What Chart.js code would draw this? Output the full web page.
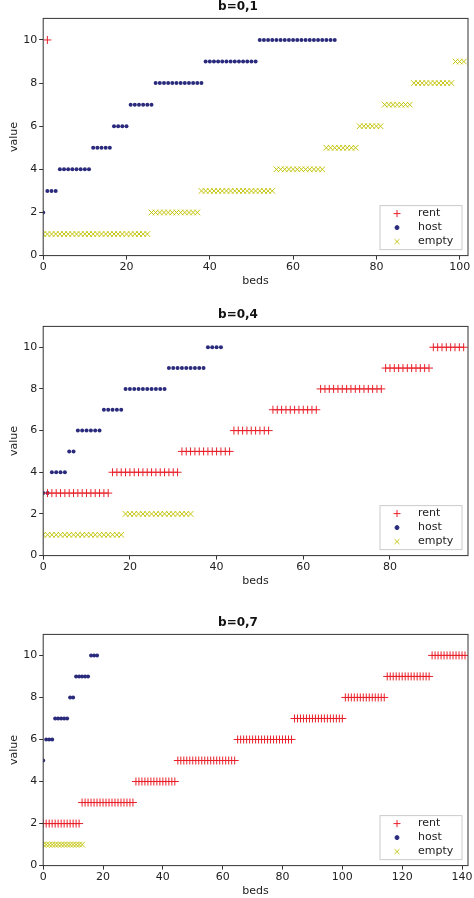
<!DOCTYPE html>
<html>
<head>
<meta charset="utf-8">
<script src="https://cdn.jsdelivr.net/npm/chart.js@4"></script>
<style>
  body { margin: 0; background: #fff; overflow: hidden; }
  .box { position: absolute; left: 0; width: 474px; }
</style>
</head>
<body>
<div class="box" style="top:0;height:292px"><canvas id="c1"></canvas></div>
<div class="box" style="top:300px;height:292px"><canvas id="c2"></canvas></div>
<div class="box" style="top:606px;height:292px"><canvas id="c3"></canvas></div>
<script>
"use strict";

// Runs of [value, firstBed, lastBed]
var rent1 = [[10, 1, 1]];
var host1 = [[2, 0, 0], [3, 1, 3], [4, 4, 11], [5, 12, 16], [6, 17, 20], [7, 21, 26], [8, 27, 38], [9, 39, 51], [10, 52, 70]];
var empty1 = [[1, 0, 25], [2, 26, 37], [3, 38, 55], [4, 56, 67], [5, 68, 75], [6, 76, 81], [7, 82, 88], [8, 89, 98], [9, 99, 101]];

var rent2 = [[3, 1, 15], [4, 16, 31], [5, 32, 43], [6, 44, 52], [7, 53, 63], [8, 64, 78], [9, 79, 89], [10, 90, 97]];
var host2 = [[3, 0, 1], [4, 2, 5], [5, 6, 7], [6, 8, 13], [7, 14, 18], [8, 19, 28], [9, 29, 37], [10, 38, 41]];
var empty2 = [[1, 0, 18], [2, 19, 34]];

var rent3 = [[2, 0, 12], [3, 13, 30], [4, 31, 44], [5, 45, 64], [6, 65, 83], [7, 84, 100], [8, 101, 114], [9, 115, 129], [10, 130, 141]];
var host3 = [[5, 0, 0], [6, 1, 3], [7, 4, 8], [8, 9, 10], [9, 11, 15], [10, 16, 18]];
var empty3 = [[1, 0, 13]];

var yTicks = [0, 2, 4, 6, 8, 10];

function expand(runs) {
    var pts = [];
    runs.forEach(function (r) {
        for (var x = r[1]; x <= r[2]; x++) pts.push({ x: x, y: r[0] });
    });
    return pts;
}

// frame around plot area + legend in lower right
var framePlugin = {
    id: "frame",
    afterDatasetsDraw: function (chart) {
        var ctx = chart.ctx, a = chart.chartArea;
        ctx.save();
        ctx.strokeStyle = "#333";
        ctx.lineWidth = 1;
        ctx.strokeRect(a.left, a.top, a.right - a.left, a.bottom - a.top);
        var w = 82, h = 44, x = a.right - w - 6, y = a.bottom - h - 6;
        ctx.fillStyle = "rgba(255,255,255,0.85)";
        ctx.strokeStyle = "#ccc";
        ctx.fillRect(x, y, w, h);
        ctx.strokeRect(x, y, w, h);
        ctx.font = "11px 'DejaVu Sans'";
        ctx.textBaseline = "middle";
        chart.data.datasets.forEach(function (ds, i) {
            var ly = y + 8 + i * 14;
            ctx.strokeStyle = ds.borderColor;
            ctx.fillStyle = ds.backgroundColor;
            Chart.helpers.drawPoint(ctx, { pointStyle: ds.pointStyle, radius: ds.pointStyle === "circle" ? 2 : 3.5, borderWidth: 1 }, x + 17, ly);
            ctx.fillStyle = "#222";
            ctx.fillText(ds.label, x + 38, ly);
        });
        ctx.restore();
    }
};

function makeChart(id, title, rent, host, empty, xMax, xStep, pad) {
    return new Chart(document.getElementById(id), {
        type: "scatter",
        data: {
            datasets: [
                { label: "rent", data: expand(rent), pointStyle: "cross", radius: 4, borderWidth: 1, borderColor: "#e8202a", backgroundColor: "#e8202a" },
                { label: "host", data: expand(host), pointStyle: "circle", radius: 2, borderWidth: 0, borderColor: "#2b2b7e", backgroundColor: "#2b2b7e" },
                { label: "empty", data: expand(empty), pointStyle: "crossRot", radius: 4, borderWidth: 1, borderColor: "#c4c410", backgroundColor: "#c4c410" }
            ]
        },
        options: {
            responsive: true,
            maintainAspectRatio: false,
            animation: false,
            layout: { padding: pad },
            plugins: {
                legend: { display: false },
                tooltip: { enabled: false },
                title: { display: true, text: title, color: "#111", padding: { top: 0, bottom: 4 },
                         font: { family: "DejaVu Sans", size: 12, weight: "bold" } }
            },
            scales: {
                x: {
                    min: 0, max: xMax,
                    afterBuildTicks: function (s) {
                        var t = [];
                        for (var v = 0; v <= xMax; v += xStep) t.push({ value: v });
                        s.ticks = t;
                    },
                    ticks: { autoSkip: false, color: "#222", font: { family: "DejaVu Sans", size: 11 }, padding: 1, maxRotation: 0 },
                    grid: { drawOnChartArea: false, color: "#333", tickLength: 4 },
                    border: { display: false },
                    title: { display: true, text: "beds", color: "#222", padding: 0, font: { family: "DejaVu Sans", size: 11 } }
                },
                y: {
                    min: 0, max: 11,
                    afterBuildTicks: function (s) { s.ticks = yTicks.map(function (v) { return { value: v }; }); },
                    ticks: { color: "#222", font: { family: "DejaVu Sans", size: 11 }, padding: 2 },
                    grid: { drawOnChartArea: false, color: "#333", tickLength: 4 },
                    border: { display: false },
                    title: { display: true, text: "value", color: "#222", padding: 0, font: { family: "DejaVu Sans", size: 11 } }
                }
            }
        },
        plugins: [framePlugin]
    });
}

makeChart("c1", "b=0,1", rent1, host1, empty1, 102, 20, { left: 8, right: 6, top: 0, bottom: 4 });
makeChart("c2", "b=0,4", rent2, host2, empty2, 98, 20, { left: 8, right: 6, top: 8, bottom: 4 });
makeChart("c3", "b=0,7", rent3, host3, empty3, 142, 20, { left: 8, right: 6, top: 10, bottom: 0 });
</script>
</body>
</html>
